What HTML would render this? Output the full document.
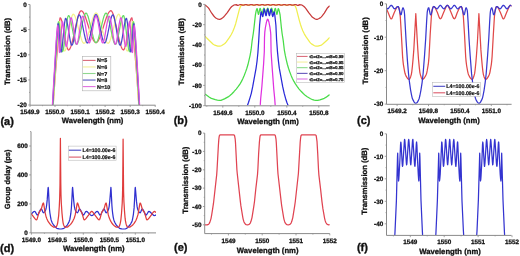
<!DOCTYPE html>
<html><head><meta charset="utf-8"><title>Figure</title>
<style>html,body{margin:0;padding:0;background:#fff;}svg{display:block;}text{font-family:"Liberation Sans", Arial, sans-serif;text-rendering:geometricPrecision;}text.h{text-rendering:auto;}</style></head>
<body><svg width="520" height="256" viewBox="0 0 520 256">
<rect width="520" height="256" fill="#fff"/>
<defs><clipPath id="clipa"><rect x="30" y="1.5" width="125.5" height="103.2"/></clipPath><clipPath id="clipb"><rect x="205" y="1.4" width="124.7" height="103.9"/></clipPath><clipPath id="clipc"><rect x="386.5" y="0.8" width="125.1" height="103"/></clipPath><clipPath id="clipd"><rect x="31" y="128.6" width="125" height="103.8"/></clipPath><clipPath id="clipe"><rect x="204.7" y="130.1" width="125.1" height="103"/></clipPath><clipPath id="clipf"><rect x="386.5" y="130.8" width="125" height="104.1"/></clipPath></defs>
<polyline points="53,106 53.1,105.7 54.8,81.6 58.5,35 59.4,23.1 59.8,19.4 60,18.1 60.1,17.9 60.4,17.9 60.9,18.5 61.4,19.7 61.9,21.3 63,26.2 65.4,39.9 66.5,45.3 67.1,47.6 67.6,48.9 68.3,49.9 68.5,50 68.7,50 69.1,49.8 69.5,49.4 70.2,48.1 71,46.2 71.8,43.4 73.3,37.5 76.7,21.8 77.6,18.3 78.5,15.3 79.2,13.3 79.8,12 80.6,11 81.2,10.7 81.9,11 82.7,11.7 83.5,12.9 84.4,14.6 85.4,17 86.3,19.7 90.4,32.5 92.2,37.6 93.2,39.8 94.2,41.4 95.1,42.3 95.6,42.6 95.9,42.7 96.3,42.6 96.8,42.4 97.7,41.6 98.6,40 99.6,37.9 101.5,32.9 105.9,19 107,16 108,13.8 109,12.1 110,11.1 110.5,10.8 110.8,10.7 111.2,10.8 111.6,11.1 112.2,12 112.8,13.3 113.5,15.3 114.3,17.9 115.7,23.9 118.9,38.6 120.5,44.7 121.3,46.9 122,48.6 122.8,49.6 123.4,50 123.7,49.9 124.2,49.2 124.7,47.9 125.2,46.3 126.3,41.2 128.7,28.2 129.8,22.7 130.4,20.4 130.9,19 131.4,18.1 131.6,17.9 131.9,17.9 132,18.1 132.2,19.4 132.6,23.1 133.5,35 137.2,81.6 138.9,105.7 139,106" fill="none" stroke="#e8506a" stroke-width="1.25" stroke-linejoin="round" clip-path="url(#clipa)"/>
<polyline points="53.2,106 53.3,105.3 54.7,82.5 57.2,42.5 58.5,25.6 58.7,23 59,21.5 59.1,21.3 59.2,21.3 59.6,21.9 60.2,24.2 60.9,28.8 63.2,46.4 64,49.9 64.3,50.8 64.5,50.9 64.7,51 65.1,50.7 65.6,49.7 66.1,48.2 66.5,46.2 67.7,40.4 69.9,26.6 70.8,21 71.8,16.8 72.3,15.3 72.8,14.5 73,14.3 73.3,14.2 73.7,14.4 74,14.7 74.6,15.6 75.4,17.3 76.8,21.9 80,34.4 81.4,39 82.1,40.9 82.8,42.4 83.4,43.1 83.8,43.3 84.1,43.3 84.7,43 85.3,42.4 85.9,41.3 86.6,39.6 88.1,35.1 91.5,22.5 93,17.8 93.9,15.6 94.6,14.2 95.3,13.3 95.9,13 96.6,13.2 97.2,13.8 97.8,14.8 98.5,16.5 100.1,21.2 103.5,33.9 105,38.6 105.9,40.8 106.6,42.2 107.3,43 107.9,43.3 108.2,43.3 108.6,43.1 109.2,42.4 109.9,40.9 110.6,39 112,34.4 115.2,21.9 116.6,17.3 117.4,15.6 118,14.7 118.3,14.4 118.7,14.2 119,14.3 119.2,14.5 119.7,15.3 120.2,16.8 121.2,21 122.1,26.6 124.3,40.4 125.5,46.2 125.9,48.2 126.4,49.7 126.9,50.7 127.3,51 127.5,50.9 127.7,50.8 128,49.9 128.8,46.4 131.1,28.8 131.8,24.2 132.4,21.9 132.8,21.3 132.9,21.3 133,21.5 133.3,23 133.5,25.6 134.8,42.5 137.3,82.5 138.7,105.3 138.8,106" fill="none" stroke="#f4f28c" stroke-width="1.25" stroke-linejoin="round" clip-path="url(#clipa)"/>
<polyline points="52.8,106 52.9,105.2 54.3,81.5 56.8,41.8 57.9,26.3 58.1,23.7 58.4,22.1 58.5,21.8 58.6,21.8 58.7,22.1 59.2,24.4 59.9,29.9 61.5,47.2 62,50.5 62.2,51.4 62.3,51.6 62.5,51.6 62.7,51.4 63.1,50.4 63.8,46.8 64.6,41.5 66.9,22 67.6,17.7 68,16.3 68.3,15.8 68.4,15.6 68.6,15.6 69.1,16 69.6,16.9 70.1,18.4 71.2,23 73.7,35.9 74.7,40.3 75.2,42 75.7,43.3 76.2,44.1 76.4,44.3 76.7,44.3 77.2,44 77.8,42.9 78.3,41.6 78.9,39.5 80,34.8 82.7,21.6 84,16.7 84.5,15.2 85,14 85.5,13.3 86,13.1 86.5,13.3 87,13.9 87.4,14.9 88.1,16.5 89.4,21.3 92.3,33.5 93.5,38.1 94.3,40.3 94.9,41.7 95.5,42.5 96,42.7 96.5,42.5 97.1,41.7 97.7,40.4 98.5,38.2 99.7,33.6 102.7,20.9 104,16.2 104.8,14.4 105.4,13.4 105.8,13.2 106,13.1 106.5,13.3 107,14 107.5,15.1 108.6,18.9 109.6,23.2 112.1,35.3 113.3,40.4 113.9,42.3 114.4,43.4 114.9,44.1 115.4,44.3 115.7,44.2 115.9,44 116.4,43.1 116.9,41.7 117.4,39.9 118.4,35.4 120.7,23.1 121.7,18.9 122.2,17.3 122.7,16.2 123.2,15.6 123.5,15.6 123.6,15.6 124,16.3 124.3,17.6 125.1,21.8 127.4,41.3 128.3,47.4 128.9,50.3 129.3,51.3 129.5,51.6 129.6,51.6 129.8,51.4 130,50.6 130.5,47.4 132.2,28.9 132.7,24.6 133.2,22.1 133.5,21.8 133.6,22 133.9,23.4 134.1,25.9 135.2,41 137.8,81.9 139.2,105.3 139.3,106" fill="none" stroke="#66dc66" stroke-width="1.25" stroke-linejoin="round" clip-path="url(#clipa)"/>
<polyline points="52.5,106 52.6,105.2 54,81.1 56.5,40.8 57.6,26.8 57.9,24.7 58.1,23.7 58.2,23.7 58.3,23.9 58.7,26.4 60.3,47.8 60.7,51 61,51.9 61.1,52 61.3,51.6 61.6,50.7 62.1,47.7 62.7,42.1 64.4,24.1 65.1,19.8 65.3,18.8 65.6,18.3 65.8,18.4 66.2,18.9 66.6,19.9 66.9,21.3 67.8,25.9 69.6,37 70.3,41.1 71,44.1 71.4,44.9 71.8,45.2 72.2,45 72.5,44.4 72.9,43.4 73.4,41.5 74.4,36.6 77.1,20.5 78,16.9 78.4,15.8 78.8,15.2 79,14.9 79.3,14.9 79.8,15.3 80.3,16.3 80.8,17.7 81.9,22.1 84.4,34.5 85.4,38.8 85.9,40.5 86.4,41.8 86.9,42.7 87.1,42.9 87.3,43 87.7,42.9 88.2,42.2 88.7,41.1 89.2,39.7 90.3,35.2 92.7,23.8 93.8,19.1 94.4,17 94.9,15.7 95.4,14.9 95.9,14.6 96.3,14.7 96.8,15.3 97.3,16.3 97.8,17.8 98.9,22.1 101.4,34.1 102.5,38.8 103.2,40.8 103.7,42 104.2,42.8 104.7,43 104.9,42.9 105.1,42.7 105.6,41.8 106.1,40.5 106.6,38.8 107.6,34.5 110.1,22.1 111.2,17.7 111.7,16.3 112.2,15.3 112.7,14.9 113,14.9 113.2,15.2 113.6,15.8 114,16.9 114.9,20.5 117.6,36.6 118.6,41.5 119.1,43.4 119.5,44.4 119.8,45 120.2,45.2 120.6,44.9 121,44.1 121.7,41.1 122.4,37 124.2,25.9 125.1,21.3 125.4,19.9 125.8,18.9 126.2,18.4 126.4,18.3 126.7,18.8 126.9,19.8 127.6,24.1 129.3,42.1 129.9,47.7 130.4,50.7 130.7,51.6 130.9,52 131,51.9 131.3,51 131.7,47.8 133.3,26.4 133.7,23.9 133.8,23.7 133.9,23.7 134.1,24.7 134.4,26.8 135.5,40.8 138,81.1 139.4,105.2 139.5,106" fill="none" stroke="#4848cc" stroke-width="1.25" stroke-linejoin="round" clip-path="url(#clipa)"/>
<polyline points="52.3,106 52.4,105.1 53.7,82.3 56.2,40.3 57.2,28.7 57.4,26.7 57.7,25.6 57.8,25.5 57.9,26 58.2,28.9 59.1,47.4 59.3,51.1 59.4,52.2 59.6,52.5 59.8,51.7 60.2,48.6 61.7,26.6 62.1,23 62.3,21.8 62.4,21.7 62.7,22.1 63.2,24.3 63.7,28 65.3,42.6 65.8,45.5 66.2,46.5 66.3,46.5 66.4,46.4 66.7,45.9 67.3,43.1 67.9,38.6 69.8,22.7 70.4,19.1 70.8,18 71.1,17.8 71.3,17.9 71.7,18.7 72.3,21.2 73.1,25.6 75.1,39.3 75.7,42.4 76.1,43.6 76.3,44.1 76.6,44.3 76.7,44.3 77.1,43.9 77.4,42.9 77.8,41.5 78.7,36.8 80.4,25.1 81.2,20.7 81.9,17.5 82.3,16.6 82.7,16.2 83.1,16.4 83.4,17.1 83.8,18.1 84.3,20.1 85.2,24.7 87.1,35.8 87.9,40 88.7,42.3 89.1,42.8 89.3,42.9 89.6,42.7 89.9,42.1 90.7,39.8 91.6,35.6 93.4,24.8 94.3,20.3 95.2,17.1 95.6,16.4 95.9,16.1 96.3,16.2 96.7,16.8 97.4,19.2 98.3,23.4 100.2,34.3 101.1,38.7 101.9,41.8 102.3,42.6 102.7,42.9 102.9,42.8 103.3,42.3 104.1,40 104.9,35.8 106.8,24.7 107.7,20.1 108.2,18.1 108.6,17.1 108.9,16.4 109.3,16.2 109.7,16.6 110.1,17.5 110.8,20.7 111.6,25.1 113.3,36.8 114.2,41.5 114.6,42.9 114.9,43.9 115.3,44.3 115.4,44.3 115.7,44.1 115.9,43.6 116.3,42.4 116.9,39.3 118.9,25.6 119.7,21.2 120.3,18.7 120.7,17.9 120.9,17.8 121.2,18 121.6,19.1 122.2,22.7 124.1,38.6 124.7,43.1 125.3,45.9 125.6,46.4 125.7,46.5 125.8,46.5 126.2,45.5 126.7,42.6 128.3,28 128.8,24.3 129.3,22.1 129.6,21.7 129.7,21.8 129.9,23 130.3,26.6 131.8,48.6 132.2,51.7 132.4,52.5 132.6,52.2 132.7,51.1 132.9,47.4 133.8,28.9 134.1,26 134.2,25.5 134.3,25.6 134.6,26.7 134.8,28.7 135.8,40.3 138.3,82.3 139.6,105.1 139.7,106" fill="none" stroke="#e050e0" stroke-width="1.25" stroke-linejoin="round" clip-path="url(#clipa)"/>
<rect x="82.3" y="56.5" width="28.5" height="34.3" fill="#fff" stroke="#b0b0b0" stroke-width="0.6"/>
<line x1="82.8" y1="60.40" x2="95.6" y2="60.40" stroke="#d86878" stroke-width="1.1"/>
<text x="97.1" y="62.4" font-size="5.4" text-anchor="start" font-weight="bold" fill="#111" stroke="#111" stroke-width="0.2">N=5</text>
<line x1="82.8" y1="66.95" x2="95.6" y2="66.95" stroke="#f2ee9a" stroke-width="1.1"/>
<text x="97.1" y="68.9" font-size="5.4" text-anchor="start" font-weight="bold" fill="#111" stroke="#111" stroke-width="0.2">N=6</text>
<line x1="82.8" y1="73.50" x2="95.6" y2="73.50" stroke="#90d890" stroke-width="1.1"/>
<text x="97.1" y="75.5" font-size="5.4" text-anchor="start" font-weight="bold" fill="#111" stroke="#111" stroke-width="0.2">N=7</text>
<line x1="82.8" y1="80.05" x2="95.6" y2="80.05" stroke="#5a5ac0" stroke-width="1.1"/>
<text x="97.1" y="82" font-size="5.4" text-anchor="start" font-weight="bold" fill="#111" stroke="#111" stroke-width="0.2">N=8</text>
<line x1="82.8" y1="86.60" x2="95.6" y2="86.60" stroke="#e070e0" stroke-width="1.1"/>
<text x="97.1" y="88.5" font-size="5.4" text-anchor="start" font-weight="bold" fill="#111" stroke="#111" stroke-width="0.2">N=10</text>
<polyline points="205,36.1 207,38.3 209.5,40.8 213.2,44.2 214.1,44.8 214.8,45.2 217.7,46.1 218.9,46.2 219.9,46.2 220.8,46 221.8,45.5 224.5,43.8 225.3,43 226.3,41.8 229.5,37.4 231.3,34.5 232.8,31.5 234.3,27.7 235.7,23.7 239.5,8.9 240.2,7.1 240.8,5.9 241.3,5.3 242,5 242.9,4.7 243,5.3 244.1,4.7 245,4.6 245.6,4.7 247.1,5.2 247.8,5.3 248.4,5.2 249.7,4.7 250.5,4.6 251.2,4.7 252.5,5.2 253.2,5.3 253.8,5.2 255.3,4.7 256,4.6 256.6,4.7 258,5.2 258.7,5.3 259.4,5.2 260.8,4.7 261.4,4.6 262.1,4.7 263.6,5.2 264.2,5.3 264.9,5.2 266.3,4.7 266.9,4.6 267.7,4.7 269.1,5.2 269.7,5.3 270.4,5.2 271.8,4.7 272.4,4.6 273,4.7 274.4,5.2 275.1,5.3 275.9,5.2 277.3,4.7 277.9,4.6 278.6,4.7 280.1,5.2 280.7,5.3 281.4,5.2 282.8,4.7 283.4,4.6 284.2,4.7 285.6,5.2 286.2,5.3 286.9,5.2 288.3,4.7 289,4.6 289.6,4.7 290.9,5.2 291.6,5.3 292.9,5.1 293,4.7 293.2,4.8 294.6,5.3 295.2,6.1 295.9,7.6 296.5,9.3 299.3,20.3 300.5,24.5 301.6,27.8 302.9,31 304.4,34.1 306.3,37.2 309.6,41.9 310.6,43.1 311.5,43.9 314.1,45.5 315.1,46 316,46.2 316.9,46.2 317.9,46.1 320.6,45.3 321.8,44.8 323.1,43.8 327,40.3 329.7,37.5" fill="none" stroke="#f0ee50" stroke-width="1.25" stroke-linejoin="round" clip-path="url(#clipb)"/>
<polyline points="205,94.1 209.4,97.2 210.9,98.1 212.2,98.7 215.3,99.7 217.4,100.2 219.4,100.4 221,100.3 222.6,99.7 224.5,98.9 228.1,96.9 229.7,95.7 231.7,94 233.9,91.7 236.2,89.1 238.1,86.7 239.9,84.1 241.5,81.4 242.8,78.8 244.1,75.8 245.6,71.9 246.7,68.8 247.9,64.8 248.9,60.6 250.1,55.3 251.1,49.7 252.2,40.3 253.3,33.4 253.9,28.6 255.4,14.9 256.1,11.2 256.6,9.3 257,8.7 257.1,8.7 257.2,8.8 257.5,9.8 258.1,13.4 258.3,14.1 258.5,14.4 258.7,14.2 258.9,13.3 259.8,8.9 260,8.4 260.2,8.4 260.4,8.6 260.6,9.4 261.5,13.1 261.8,13.7 262,13.9 262.1,13.7 262.4,13 263.4,8.9 263.7,8.2 263.8,8.1 264,8.3 264.3,8.9 265.3,12.9 265.6,13.5 265.8,13.5 266,13.4 266.2,12.7 267.3,8.6 267.7,8.1 267.8,8.1 268.1,8.7 269.2,12.7 269.4,13.4 269.6,13.6 269.8,13.5 270.1,12.9 271.1,8.9 271.4,8.3 271.6,8.1 271.8,8.3 272,8.9 273,13 273.3,13.7 273.5,13.9 273.6,13.7 273.9,13 274.8,9.4 275.1,8.6 275.2,8.4 275.4,8.5 275.6,8.9 276.5,13.4 276.8,14.4 277,14.3 277.2,13.7 278.1,9 278.2,8.8 278.4,8.7 278.5,8.8 278.8,9.4 279.4,11.7 280.1,15 281.5,28.7 282.1,33.5 283.2,40.4 284.3,49.8 285.3,55.4 286.4,60.3 287.4,64.5 288.6,68.5 289.7,71.7 291.1,75.4 292.4,78.5 293.8,81.1 295.4,83.9 297.1,86.4 298.9,88.8 301.1,91.3 303.5,93.8 305.5,95.6 307.2,96.8 310.6,98.7 312.6,99.7 314.2,100.2 315.9,100.4 317.8,100.3 319.9,99.8 322.9,98.8 324.3,98.3 325.8,97.4 329.7,94.6" fill="none" stroke="#48dc48" stroke-width="1.25" stroke-linejoin="round" clip-path="url(#clipb)"/>
<polyline points="205,109.8 245.4,109.8 247.3,105.7 248.5,102.5 249.9,98.1 251.3,93.3 252.7,86.7 256,68.6 257,61.5 257.9,52.8 258.7,40.9 259.6,25 260.6,14.9 261,12.4 261.2,11.9 261.2,11.9 261.4,12.2 262.4,16.1 262.6,16.5 262.8,16.5 263.1,15.3 264,9.7 264.2,9.2 264.4,9.1 264.7,10.1 265.6,14.9 265.9,15.6 266.1,15.7 266.4,14.7 267.3,9.8 267.5,9.2 267.7,8.9 267.8,9 268,9.5 269,14.8 269.4,15.7 269.5,15.6 269.8,14.8 270.7,10 271,9.1 271.2,9.2 271.4,9.8 272.3,15.4 272.7,16.5 272.8,16.5 273,16 274,12.1 274.2,11.9 274.3,11.9 274.4,12.5 274.8,15 275.9,25.2 276.6,39.7 277.5,51.9 278.4,60.9 279.3,68.2 282.7,86.7 284.2,93.4 285.5,98.2 286.8,102.2 288.1,105.5 289.9,109.6 290,109.8 329.7,109.8" fill="none" stroke="#2828d8" stroke-width="1.25" stroke-linejoin="round" clip-path="url(#clipb)"/>
<polyline points="205,109.8 259.5,109.8 259.9,107.3 260.3,104.4 260.7,98.5 261.9,86.2 263.6,63.9 264.3,51.7 264.5,37.6 264.8,32.2 265.4,27.5 266.4,22.4 266.7,21.3 267.1,20 267.4,19.5 267.7,19.2 267.9,19.4 268.2,19.9 268.9,22 269.9,27.1 270.6,32.3 270.8,34.9 271.1,52 271.9,64.1 273.8,89.5 274.7,98.6 275.2,105.5 275.9,109.6 276,109.8 329.7,109.8" fill="none" stroke="#e030e0" stroke-width="1.25" stroke-linejoin="round" clip-path="url(#clipb)"/>
<polyline points="205,4.9 206.3,5.9 208.4,7.9 209.3,9.2 211.7,13.2 213.8,16 214.9,17.2 215.8,18 217.3,18.8 218.4,19.2 219.4,19.4 220.2,19.3 221,18.9 223,17.5 223.6,17 224.8,15.7 227.3,12.6 230,8.6 231.1,7.2 231.8,6.5 233.3,5.5 234.1,5 234.8,4.8 236.9,4.7 237,5.3 237.6,5.4 238.3,5.3 239.7,4.7 240.3,4.6 241,4.6 242.5,5.2 243.2,5.2 244,5.1 245.3,4.6 245.9,4.5 246.5,4.6 248,5.1 248.7,5.2 249.3,5.1 250.7,4.6 251.4,4.5 252.1,4.6 253.5,5.1 254.2,5.2 254.9,5.1 256.3,4.6 257,4.5 257.6,4.6 258.9,5.1 259.6,5.2 260.3,5.1 261.7,4.6 262.4,4.5 263,4.6 264.5,5.1 265.2,5.2 265.8,5.1 267.2,4.6 267.9,4.5 268.6,4.6 270,5.1 270.7,5.2 271.3,5.1 272.7,4.6 273.5,4.5 274.1,4.6 275.5,5.1 276.1,5.2 276.8,5.1 278.2,4.6 278.9,4.5 279.5,4.6 280.9,5.1 281.7,5.2 282.3,5.1 283.7,4.6 284.4,4.5 285,4.6 286.5,5.1 287.2,5.2 287.8,5.1 289.2,4.6 289.9,4.5 290.6,4.6 292,5.1 292.7,5.2 293.3,5.2 294.7,4.7 295.3,4.6 296,4.7 297.5,5.3 298.2,5.4 298.9,5.3 299,4.7 301.2,4.8 301.8,5 302.6,5.5 304,6.5 304.7,7.2 305.9,8.6 308.7,12.7 311.1,15.7 312.2,17 312.9,17.5 314.8,18.8 315.7,19.2 316.5,19.4 317.5,19.3 318.6,18.8 320.2,17.9 321.1,17.1 322.2,15.8 324.3,13.1 327.3,8.2 327.9,7.5 329.7,5.8" fill="none" stroke="#c83a3a" stroke-width="1.25" stroke-linejoin="round" clip-path="url(#clipb)"/>
<rect x="296.3" y="53.6" width="48.2" height="28.9" fill="#fff" stroke="#b0b0b0" stroke-width="0.5"/>
<line x1="297" y1="56.40" x2="307.6" y2="56.40" stroke="#d86070" stroke-width="1"/>
<text class="h" x="309.4" y="57.9" font-size="4.4" text-anchor="start" font-weight="bold" fill="#111" stroke="#111" stroke-width="0.25">t1=t2=...=t8=0.99</text>
<line x1="297" y1="62.05" x2="307.6" y2="62.05" stroke="#f2ee98" stroke-width="1"/>
<text class="h" x="309.4" y="63.6" font-size="4.4" text-anchor="start" font-weight="bold" fill="#111" stroke="#111" stroke-width="0.25">t1=t2=...=t8=0.95</text>
<line x1="297" y1="67.70" x2="307.6" y2="67.70" stroke="#80d880" stroke-width="1"/>
<text class="h" x="309.4" y="69.2" font-size="4.4" text-anchor="start" font-weight="bold" fill="#111" stroke="#111" stroke-width="0.25">t1=t2=...=t8=0.85</text>
<line x1="297" y1="73.35" x2="307.6" y2="73.35" stroke="#5646b4" stroke-width="1"/>
<text class="h" x="309.4" y="74.9" font-size="4.4" text-anchor="start" font-weight="bold" fill="#111" stroke="#111" stroke-width="0.25">t1=t2=...=t8=0.80</text>
<line x1="297" y1="79.00" x2="307.6" y2="79.00" stroke="#d868e0" stroke-width="1"/>
<text class="h" x="309.4" y="80.5" font-size="4.4" text-anchor="start" font-weight="bold" fill="#111" stroke="#111" stroke-width="0.25">t1=t2=...=t8=0.75</text>
<polyline points="386.5,8.9 388.2,12.8 390,17.3 390.6,18.4 391,18.8 391.2,18.8 391.7,18.6 392.2,17.8 394.3,12.4 396.2,8.4 396.9,7.1 397.4,6.6 397.7,6.5 397.9,6.5 398.5,7.1 399.1,8.3 399.4,9.4 399.7,11.8 400.3,16.9 401.4,35.2 402.6,56.6 403,61.1 403.4,64.6 404.5,71 405,73.3 405.5,74.7 406.4,76.7 407.4,78.2 408.2,79 408.7,79.3 409,79.4 409.5,79.1 410,78.3 410.6,76.9 411.3,74.6 411.8,71.6 412.4,66.2 413.1,58.6 413.8,49.9 415.8,13.7 417.1,37.6 417.8,49.4 418.5,59.3 419.3,67.6 419.9,72.6 420.5,75.1 421.2,77.3 421.7,78.6 422.3,79.3 422.5,79.4 422.8,79.3 423.5,78.9 424.3,78 425.4,76.2 426.2,74.5 426.7,73.1 427.2,70.7 428.3,64.2 428.6,61.4 429,57 430.2,34.2 431.3,17.3 431.8,12 432.2,9.6 432.5,8.4 433.1,7.1 433.6,6.5 433.9,6.5 434.2,6.6 434.7,7.1 435.4,8.3 437.4,12.5 439.3,17.7 439.9,18.6 440.2,18.8 440.4,18.8 441,18.5 441.6,17.4 443.4,12.9 446.1,6.7 446.7,5.7 447,5.4 447.3,5.3 447.6,5.4 447.9,5.6 448.6,6.7 451.3,12.9 453.1,17.4 453.7,18.5 454.3,18.8 454.5,18.8 454.8,18.6 455.4,17.7 457.3,12.5 459.3,8.3 460,7.1 460.5,6.6 460.8,6.5 461.1,6.5 461.6,7.1 462.2,8.4 462.9,12 463.4,17.3 464.5,34.2 465.7,57 466.1,61.4 466.6,65.5 467.7,71.6 468.2,73.7 468.7,75 469.8,77.2 470.8,78.6 471.4,79.1 471.8,79.3 472.3,79.3 472.5,79.2 473,78.6 473.5,77.3 474.2,75.1 474.6,73.7 475.1,70 475.9,62.3 476.5,54.7 477.4,42.2 478.9,13.7 480.9,49.9 481.6,58.6 482.3,66.2 482.9,71.6 483.4,74.6 484.1,76.9 484.7,78.3 485.2,79.1 485.7,79.4 486,79.3 486.5,79 487.3,78.2 488.3,76.7 489.2,74.7 489.7,73.3 490.2,71 491.3,64.6 491.7,61.1 492.1,56.5 493.3,35.2 494.4,16.9 495,11.8 495.3,9.4 495.6,8.3 496.2,7.1 496.8,6.5 497,6.5 497.3,6.6 497.8,7.1 498.5,8.4 500.4,12.4 502.5,17.8 503,18.6 503.5,18.8 503.7,18.8 504.1,18.4 504.7,17.3 506.6,12.6 508.8,7.4 509.5,6.1 510.1,5.4 510.5,5.3 511.1,5.7 511.6,6.5" fill="none" stroke="#e04848" stroke-width="1.25" stroke-linejoin="round" clip-path="url(#clipc)"/>
<polyline points="386.5,7.8 386.9,8.3 387.4,8.7 387.8,8.8 388.1,8.7 388.8,8 390.3,5.9 390.8,5.5 391.1,5.3 391.5,5.4 392,5.7 393.7,8.2 394.1,8.6 394.5,8.8 394.8,8.8 395.3,8.6 397.2,6.8 397.7,6.5 398.1,6.5 398.5,7 398.8,8 400.3,13.7 400.6,14.5 400.9,14.8 401.2,14.6 401.4,13.8 402.3,9.4 402.8,8 402.9,7.8 403,7.8 403.3,8.1 403.8,9.4 404.2,10.8 404.6,14.6 406.1,41 407.4,60.4 408.5,73.5 409.4,81.7 410.6,90.1 411.6,95.3 412.3,98.3 413,99.9 414.2,102.1 415,103.1 415.5,103.4 415.8,103.4 416.2,103.3 416.5,103.1 417.4,102.2 418.5,100.1 419.2,98.4 419.9,95.5 420.9,90.3 422.1,82.6 423.2,72.8 424.5,56 425.7,38.6 426.6,21.9 427.2,12.7 427.5,10.5 428.2,8.3 428.4,7.9 428.6,7.8 428.8,7.9 429,8.3 430.1,13.7 430.4,14.5 430.7,14.8 431,14.4 431.4,13.5 432.9,7.5 433.3,6.7 433.5,6.5 434.3,6.7 436.1,8.4 436.6,8.7 437,8.8 437.4,8.7 437.7,8.4 439.5,5.9 440,5.4 440.3,5.3 440.7,5.4 441.1,5.8 442.9,8.2 443.4,8.6 443.8,8.8 444.2,8.7 444.6,8.4 446.4,5.9 446.9,5.5 447.3,5.3 447.7,5.4 448.1,5.7 450,8.3 450.4,8.7 450.8,8.8 451.2,8.7 451.6,8.4 453.4,6 453.8,5.5 454.2,5.3 454.5,5.3 455,5.7 456.8,8.2 457.2,8.7 457.6,8.8 457.9,8.8 458.4,8.5 460.3,6.8 460.7,6.6 461.2,6.5 461.4,6.7 461.8,7.5 463.3,13.5 463.7,14.4 464,14.8 464.3,14.5 464.6,13.7 465.7,8.3 466,7.8 466.3,7.9 466.7,8.7 467.2,10.1 467.3,11 467.5,12.7 468.1,21.9 469,38.6 470.2,56 471.6,73.9 472.7,83.3 473.9,90.8 474.8,95.5 475.5,98.4 476.2,100.1 477.4,102.2 478.2,103.1 478.5,103.3 478.9,103.4 479.2,103.4 479.7,103.1 480.5,102.1 481.7,99.9 482.4,98.3 483.1,95.3 484.1,90.1 485.2,82.4 486.2,73.5 487.6,55.5 488.8,38.1 489.7,21.3 490.2,13.4 490.5,10.8 490.9,9.1 491.5,8 491.7,7.8 491.9,8 492.4,9.4 493.3,13.8 493.5,14.6 493.8,14.8 494.1,14.5 494.4,13.7 495.9,8 496.2,7 496.6,6.5 497,6.5 497.5,6.8 499.4,8.6 499.9,8.8 500.2,8.8 500.6,8.6 501,8.2 502.7,5.7 503.2,5.4 503.6,5.3 503.9,5.5 504.4,5.9 506.1,8.3 506.6,8.7 507,8.8 507.3,8.7 507.8,8.3 509.4,6.1 510.1,5.4 510.4,5.3 510.8,5.4 511.6,6.2" fill="none" stroke="#3838d0" stroke-width="1.25" stroke-linejoin="round" clip-path="url(#clipc)"/>
<rect x="432.5" y="82.5" width="47.9" height="13.8" fill="#fff" stroke="#b0b0b0" stroke-width="0.5"/>
<line x1="433.3" y1="86.3" x2="445.2" y2="86.3" stroke="#4848c4" stroke-width="1.1"/>
<line x1="433.3" y1="92.8" x2="445.2" y2="92.8" stroke="#dc5a6a" stroke-width="1.1"/>
<text x="446.3" y="88.2" font-size="5.3" text-anchor="start" font-weight="bold" fill="#111" stroke="#111" stroke-width="0.2">L4=100.00e-6</text>
<text x="446.3" y="94.7" font-size="5.3" text-anchor="start" font-weight="bold" fill="#111" stroke="#111" stroke-width="0.2">L4=100.09e-6</text>
<polyline points="31,214.4 33.3,212 34,211.5 34.7,211.4 35,211.6 35.3,211.9 36.9,214.7 37.3,215 37.6,214.9 38,214.6 38.4,213.9 40.4,209.9 40.8,209.3 41.2,209 41.5,209 41.8,209.4 42.9,212.1 43.3,212.7 43.5,212.8 43.9,212.6 44.7,211.6 45.4,210.4 45.9,209.2 46.2,207.9 46.6,205.5 47.2,199.9 48,188.5 48.2,187.3 48.4,188.6 49.1,202.7 49.5,209.4 49.9,213 50.5,216.6 51,219.4 51.5,221 52.3,223 53.6,225 55.4,227.1 56.7,228.2 57.8,228.7 59.3,228.9 61.2,229 63.1,228.7 63.9,228.3 65.1,227.4 66.2,226.3 67.4,224.8 68.2,223.4 68.9,222.1 69.5,220.6 69.9,219.2 70.8,213.7 71.4,207.8 72,197.2 72.4,188.8 72.6,187.3 72.7,188.3 73.7,200.6 74.3,206 74.7,208.2 75,209.4 75.5,210.5 76.3,211.9 77,212.6 77.3,212.8 77.5,212.7 78,212 79,209.5 79.3,209 79.5,209 79.9,209.2 80.4,209.9 82.4,213.9 82.8,214.6 83.2,214.9 83.5,215 83.9,214.7 85.6,211.8 86,211.5 86.3,211.4 86.9,211.6 87.6,212.1 89.8,214.4 90.6,215.1 91.2,215.5 91.7,215.6 92.4,215.5 93,215.1 95.9,212.1 96.6,211.6 97.2,211.4 97.6,211.5 98,211.9 99.6,214.7 99.9,215 100.3,214.9 100.7,214.5 101.2,213.8 103.1,209.9 103.5,209.3 103.9,209 104.2,209 104.5,209.4 105.6,212.1 106,212.7 106.2,212.8 106.5,212.7 107.1,212 108,210.6 108.5,209.4 108.8,208.3 109.2,206.1 109.8,200.8 110.9,187.3 111.1,189.8 111.9,205.3 112.3,210.2 112.7,213.6 113.2,217.1 113.7,219.4 114.2,221 115,222.8 116.2,224.9 118,227 119.3,228.1 120.4,228.7 121.8,228.9 123.6,229 125.6,228.8 126.5,228.4 127.7,227.5 128.6,226.5 129.9,225 130.7,223.8 131.5,222.4 132.1,220.9 132.5,219.5 133.4,214.3 134.1,207.9 134.7,197.3 135.1,188.8 135.3,187.3 135.4,188.2 136.5,201.4 137.1,206.4 137.5,208.5 137.9,209.8 138.3,210.8 139.2,212.1 139.8,212.7 140.1,212.8 140.3,212.7 140.7,212 141.7,209.5 142,209.1 142.2,209 142.6,209.2 143.1,209.9 145.1,213.9 145.5,214.6 145.9,214.9 146.2,215 146.6,214.7 148.2,212 148.6,211.5 148.9,211.4 149.5,211.6 150.2,212 152.7,214.6 153.7,215.4 154.3,215.6 154.8,215.5 155.4,215.3 156,214.8" fill="none" stroke="#3030d0" stroke-width="1.25" stroke-linejoin="round" clip-path="url(#clipd)"/>
<polyline points="31,213.3 32.1,214.9 35.1,218.9 36,219.7 36.4,219.8 36.7,219.7 37,219.3 37.4,218.2 38.6,213.8 39.1,212.4 39.4,211.7 40.5,210.5 41,209.7 41.5,208.3 42.7,204 43.1,203.2 43.4,203 43.7,203.8 45.1,212.6 45.7,215.2 46.2,217 46.9,218.9 47.7,220.6 48.6,222.2 49.7,223.7 50.8,225 52,226.1 53.7,227.2 54.8,227.2 56,227 56.5,226.4 57.1,225 57.6,223.3 58,220.7 58.7,215.3 59.3,206.3 59.7,197.7 60,184.7 60.4,138.4 60.8,183.7 61,194.9 61.3,203 62,213.3 62.7,220.1 63.1,222.8 63.5,224.5 64.1,226 64.7,226.9 65.5,227.1 66.9,227.2 67.3,227.1 67.7,226.9 69.3,225.6 70.6,224.4 71.7,222.9 72.8,221.1 74.2,218.2 75.2,214.9 75.7,212.2 77.1,203.9 77.3,203.2 77.4,203 77.7,203.3 78.1,204.2 79.8,209.7 80.2,210.4 81.3,211.7 81.7,212.4 82.2,213.8 83.5,218.4 83.8,219.4 84.2,219.8 84.9,219.6 85.7,218.9 88.7,214.9 90.5,212.3 91.1,211.6 91.7,211.4 92.4,211.6 93,212.3 94.8,214.9 97.8,218.9 98.7,219.7 99.1,219.8 99.4,219.7 99.7,219.3 100.1,218.3 101.3,213.8 101.7,212.4 102.1,211.7 103.2,210.5 103.7,209.7 104.2,208.4 105.4,204 105.8,203.2 106.1,203 106.4,203.8 107.8,212.1 108.3,214.9 109.3,218.1 110.7,221.2 111.8,223 113,224.5 114.3,225.7 116,227 116.5,227.2 117.7,227.1 118.6,227 119,226.6 119.6,225.6 120,224.3 120.5,222.1 120.9,219.6 121.5,213.5 122.2,203.4 122.5,195.5 122.7,185 123.1,139.2 123.5,183.3 123.6,191.9 123.9,201.2 124.5,211.1 125.1,218.2 125.4,220.6 125.9,223.2 126.3,224.7 126.8,225.9 127.2,226.6 127.5,227 129.3,227.2 129.7,227.2 130,227.1 131.8,225.8 133,224.7 134.1,223.4 135.2,221.7 136,220.2 136.7,218.6 137.9,214.9 138.4,212.3 139.8,203.9 140.1,203 140.2,203 140.4,203.2 140.8,203.9 142.1,208.5 142.6,209.8 143,210.5 144,211.7 144.4,212.4 144.9,213.8 146.2,218.4 146.5,219.4 146.9,219.8 147.2,219.8 147.6,219.6 148.5,218.8 151.4,214.9 153,212.5 153.8,211.7 154.4,211.4 154.8,211.5 155.4,211.9 156,212.7" fill="none" stroke="#e03c3c" stroke-width="1.25" stroke-linejoin="round" clip-path="url(#clipd)"/>
<rect x="68.4" y="146.1" width="47.7" height="14.1" fill="#fff" stroke="#b0b0b0" stroke-width="0.5"/>
<line x1="68.9" y1="150.2" x2="81.2" y2="150.2" stroke="#4848c4" stroke-width="1.1"/>
<line x1="68.9" y1="157.1" x2="81.2" y2="157.1" stroke="#dc5a6a" stroke-width="1.1"/>
<text x="82.5" y="152.1" font-size="5.25" text-anchor="start" font-weight="bold" fill="#111" stroke="#111" stroke-width="0.2">L4=100.00e-6</text>
<text x="82.5" y="159" font-size="5.25" text-anchor="start" font-weight="bold" fill="#111" stroke="#111" stroke-width="0.2">L4=100.09e-6</text>
<polyline points="204.7,224.8 207.4,224.8 207.5,224.7 208.5,224.3 209.1,223.6 209.8,222.4 210.4,220.6 211,218.6 211.6,215.3 212.6,209.1 213.5,203.2 216.7,174.6 217.1,168.7 218.4,145.2 218.8,139.6 219.1,137.2 219.4,135.7 219.8,135.1 220.2,134.9 233.8,134.9 234,135 234.3,135.3 234.6,135.9 235.2,139.2 235.5,142.8 236.9,169.7 237.3,174 240.4,201.9 240.9,205.9 242.8,217.3 243.2,219.3 243.8,221.4 244.5,222.9 245.4,224.2 245.7,224.4 246.2,224.6 247.4,224.8 248.4,224.6 249,224.4 249.4,224.2 250.3,223 250.9,221.6 251.5,219.5 252,217.6 253.8,206.3 254.5,201.5 255.8,188.9 257.5,174.6 257.9,168.8 258.6,154.2 259.4,142.1 259.9,137.3 260.1,136.1 260.3,135.5 260.7,135 261,134.9 274.6,134.9 274.8,135 275.1,135.3 275.4,135.8 276,139.2 276.3,142.7 277.7,169.6 278,174 281.2,201.9 281.7,205.9 283.6,217.3 284,219.3 284.6,221.4 285.2,222.9 286.2,224.2 286.5,224.4 287,224.6 288.2,224.8 289.2,224.6 289.8,224.4 290.2,224.2 291.1,223 291.7,221.6 292.3,219.5 292.8,217.6 294.6,206.3 295.3,201.5 298.4,173.5 300.2,142.1 300.6,138 301,135.7 301.4,135.1 301.8,134.9 315.4,134.9 315.7,135.1 316.1,135.5 316.3,136.3 317,141.3 317.7,153.1 318.5,169.5 318.9,175.1 320.5,188.3 322,201.9 322.9,208.7 324.6,218.3 325.1,220.4 325.7,222.2 326.6,223.7 327.3,224.4 328.7,224.8 329.8,224.7" fill="none" stroke="#e04452" stroke-width="1.25" stroke-linejoin="round" clip-path="url(#clipe)"/>
<polyline points="386.5,235.6 394.1,235.6 394.7,235.5 394.8,235.4 395,231.9 396.4,200.6 397.5,157.1 397.7,153.1 398.3,175.6 398.5,181 398.6,180.7 398.8,179.2 399.1,174.7 400,157.9 400.5,145.4 400.8,142.1 400.8,142 400.9,142.2 401.1,144 402.2,163.7 402.4,165.9 402.5,166.4 402.8,165.3 403,162.4 404.3,142.4 404.5,139.7 404.6,139.4 404.8,139.9 405,142.1 406.3,162.2 406.5,164.3 406.6,164.8 406.8,164.2 407,162.3 408.3,142.3 408.5,140.2 408.7,139.4 408.9,140.2 409.1,142.3 410.4,162.3 410.6,164.1 410.8,164.8 410.9,164.3 411.1,162.2 412.4,142.2 412.6,139.9 412.8,139.4 412.9,139.6 413.1,142.4 414.4,162.4 414.6,165.2 414.9,166.4 415,166 415.2,163.8 416.3,144 416.5,142.2 416.6,142 416.6,142.1 416.9,145.3 417.4,157.8 418.3,174.7 418.6,179.2 418.8,180.7 418.9,181 419.1,175.7 419.7,153.1 419.9,157 421,200.5 422.4,231.9 422.6,234.9 422.7,235.5 423.3,235.6 435.1,235.6 435.7,235.5 435.8,235.2 436,231.5 437.4,200 438.7,153.4 438.7,153.1 438.8,154.3 439.3,178.4 439.5,181 439.8,179 440.2,174.4 441.7,142.3 441.8,142 441.9,142.3 442.1,144.3 443.2,164 443.4,166.1 443.5,166.4 443.7,165.6 444,163 445.3,142.1 445.5,139.9 445.6,139.4 445.8,140 446,142.4 447.3,162.5 447.5,164.4 447.7,164.8 447.8,164 448,162.1 449.3,142.9 449.5,140.6 449.7,139.4 449.7,139.4 449.8,139.9 450,141.7 451.3,161.7 451.5,163.8 451.7,164.8 451.8,164.5 452,162.8 453.4,141.9 453.7,139.8 453.8,139.4 453.8,139.5 454.1,141.7 455.4,162.7 455.7,165.4 455.8,166.2 455.9,166.4 456,165.8 456.2,163.5 457.3,143.8 457.5,142.1 457.6,142 457.7,142.2 457.9,145.7 458.4,158.3 459.2,174 459.5,178.7 459.8,180.9 459.9,181 460,180.4 460.1,177.2 460.6,155.1 460.7,153.2 460.9,157.8 462,201 463.4,231 463.7,235.4 464.2,235.6 476.2,235.6 476.7,235.4 477,231.1 478.4,199.4 479.7,153.2 479.8,155 480.3,177.1 480.4,180.3 480.5,181 480.5,181 480.8,179.4 481.1,175.1 482,158.3 482.5,144.6 482.8,142 482.9,142.5 483.1,144.6 484.2,163.4 484.4,165.8 484.5,166.4 484.6,166.2 484.7,165.4 485,162.7 486.3,141.8 486.6,139.5 486.6,139.4 486.7,139.8 487,141.9 488.4,162.8 488.6,164.5 488.7,164.8 488.9,163.9 489.1,161.8 490.4,141.8 490.6,139.9 490.7,139.4 490.7,139.4 490.9,140.6 491.1,142.9 492.4,162 492.6,164 492.7,164.8 492.9,164.4 493.1,162.5 494.4,142.4 494.6,140 494.8,139.4 494.9,139.9 495.1,142 496.4,163 496.7,165.6 496.9,166.4 497,166.1 497.2,164.1 498.3,144.3 498.5,142.3 498.6,142 498.7,142.3 498.9,144.9 499.4,158.7 500.2,174.3 500.6,178.9 500.9,181 501.1,178.5 501.6,154.4 501.7,153.2 501.7,153.4 503,199.9 504.4,231.4 504.6,235.2 504.7,235.5 505.2,235.6 511.5,235.6" fill="none" stroke="#3434d0" stroke-width="1.25" stroke-linejoin="round" clip-path="url(#clipf)"/>
<path d="M30,4.5 V105.2 H155.5" fill="none" stroke="#8a8a8a" stroke-width="1.0"/>
<line x1="28.2" y1="4.5" x2="30" y2="4.5" stroke="#8a8a8a" stroke-width="0.8"/>
<text x="26.7" y="6.8" font-size="6.3" text-anchor="end" font-weight="bold" fill="#111" stroke="#111" stroke-width="0.28">0</text>
<line x1="28.2" y1="29.6" x2="30" y2="29.6" stroke="#8a8a8a" stroke-width="0.8"/>
<text x="26.7" y="31.9" font-size="6.3" text-anchor="end" font-weight="bold" fill="#111" stroke="#111" stroke-width="0.28">-5</text>
<line x1="28.2" y1="54.8" x2="30" y2="54.8" stroke="#8a8a8a" stroke-width="0.8"/>
<text x="26.7" y="57" font-size="6.3" text-anchor="end" font-weight="bold" fill="#111" stroke="#111" stroke-width="0.28">-10</text>
<line x1="28.2" y1="79.9" x2="30" y2="79.9" stroke="#8a8a8a" stroke-width="0.8"/>
<text x="26.7" y="82.1" font-size="6.3" text-anchor="end" font-weight="bold" fill="#111" stroke="#111" stroke-width="0.28">-15</text>
<line x1="28.2" y1="105" x2="30" y2="105" stroke="#8a8a8a" stroke-width="0.8"/>
<text x="26.7" y="107.3" font-size="6.3" text-anchor="end" font-weight="bold" fill="#111" stroke="#111" stroke-width="0.28">-20</text>
<line x1="29" y1="17.1" x2="30" y2="17.1" stroke="#8a8a8a" stroke-width="0.7"/>
<line x1="29" y1="42.2" x2="30" y2="42.2" stroke="#8a8a8a" stroke-width="0.7"/>
<line x1="29" y1="67.3" x2="30" y2="67.3" stroke="#8a8a8a" stroke-width="0.7"/>
<line x1="29" y1="92.4" x2="30" y2="92.4" stroke="#8a8a8a" stroke-width="0.7"/>
<line x1="30" y1="105.2" x2="30" y2="107" stroke="#8a8a8a" stroke-width="0.8"/>
<text x="30" y="114.1" font-size="6.3" text-anchor="middle" font-weight="bold" fill="#111" stroke="#111" stroke-width="0.28">1549.9</text>
<line x1="55" y1="105.2" x2="55" y2="107" stroke="#8a8a8a" stroke-width="0.8"/>
<text x="55" y="114.1" font-size="6.3" text-anchor="middle" font-weight="bold" fill="#111" stroke="#111" stroke-width="0.28">1550.0</text>
<line x1="80.1" y1="105.2" x2="80.1" y2="107" stroke="#8a8a8a" stroke-width="0.8"/>
<text x="80.1" y="114.1" font-size="6.3" text-anchor="middle" font-weight="bold" fill="#111" stroke="#111" stroke-width="0.28">1550.1</text>
<line x1="105.1" y1="105.2" x2="105.1" y2="107" stroke="#8a8a8a" stroke-width="0.8"/>
<text x="105.1" y="114.1" font-size="6.3" text-anchor="middle" font-weight="bold" fill="#111" stroke="#111" stroke-width="0.28">1550.2</text>
<line x1="130.2" y1="105.2" x2="130.2" y2="107" stroke="#8a8a8a" stroke-width="0.8"/>
<text x="130.2" y="114.1" font-size="6.3" text-anchor="middle" font-weight="bold" fill="#111" stroke="#111" stroke-width="0.28">1550.3</text>
<line x1="155.2" y1="105.2" x2="155.2" y2="107" stroke="#8a8a8a" stroke-width="0.8"/>
<text x="155.2" y="114.1" font-size="6.3" text-anchor="middle" font-weight="bold" fill="#111" stroke="#111" stroke-width="0.28">1550.4</text>
<line x1="42.5" y1="105.2" x2="42.5" y2="106.2" stroke="#8a8a8a" stroke-width="0.7"/>
<line x1="67.6" y1="105.2" x2="67.6" y2="106.2" stroke="#8a8a8a" stroke-width="0.7"/>
<line x1="92.6" y1="105.2" x2="92.6" y2="106.2" stroke="#8a8a8a" stroke-width="0.7"/>
<line x1="117.6" y1="105.2" x2="117.6" y2="106.2" stroke="#8a8a8a" stroke-width="0.7"/>
<line x1="142.7" y1="105.2" x2="142.7" y2="106.2" stroke="#8a8a8a" stroke-width="0.7"/>
<text x="92.6" y="123" font-size="7.7" text-anchor="middle" font-weight="bold" fill="#111" stroke="#111" stroke-width="0.3">Wavelength (nm)</text>
<text x="9.9" y="51.4" font-size="7.7" text-anchor="middle" font-weight="bold" fill="#111" stroke="#111" stroke-width="0.3" transform="rotate(-90 9.9 51.4)">Transmission (dB)</text>
<text x="0.4" y="124.7" font-size="11" text-anchor="start" font-weight="bold" fill="#111" stroke="#111" stroke-width="0.35">(a)</text>
<path d="M205,4.4 V105.8 H329.7" fill="none" stroke="#8a8a8a" stroke-width="1.0"/>
<line x1="203.2" y1="4.4" x2="205" y2="4.4" stroke="#8a8a8a" stroke-width="0.8"/>
<text x="201.7" y="6.7" font-size="6.3" text-anchor="end" font-weight="bold" fill="#111" stroke="#111" stroke-width="0.28">0</text>
<line x1="203.2" y1="24.7" x2="205" y2="24.7" stroke="#8a8a8a" stroke-width="0.8"/>
<text x="201.7" y="26.9" font-size="6.3" text-anchor="end" font-weight="bold" fill="#111" stroke="#111" stroke-width="0.28">-20</text>
<line x1="203.2" y1="44.9" x2="205" y2="44.9" stroke="#8a8a8a" stroke-width="0.8"/>
<text x="201.7" y="47.2" font-size="6.3" text-anchor="end" font-weight="bold" fill="#111" stroke="#111" stroke-width="0.28">-40</text>
<line x1="203.2" y1="65.2" x2="205" y2="65.2" stroke="#8a8a8a" stroke-width="0.8"/>
<text x="201.7" y="67.4" font-size="6.3" text-anchor="end" font-weight="bold" fill="#111" stroke="#111" stroke-width="0.28">-60</text>
<line x1="203.2" y1="85.4" x2="205" y2="85.4" stroke="#8a8a8a" stroke-width="0.8"/>
<text x="201.7" y="87.7" font-size="6.3" text-anchor="end" font-weight="bold" fill="#111" stroke="#111" stroke-width="0.28">-80</text>
<line x1="203.2" y1="105.7" x2="205" y2="105.7" stroke="#8a8a8a" stroke-width="0.8"/>
<text x="201.7" y="108" font-size="6.3" text-anchor="end" font-weight="bold" fill="#111" stroke="#111" stroke-width="0.28">-100</text>
<line x1="204" y1="14.5" x2="205" y2="14.5" stroke="#8a8a8a" stroke-width="0.7"/>
<line x1="204" y1="34.8" x2="205" y2="34.8" stroke="#8a8a8a" stroke-width="0.7"/>
<line x1="204" y1="55" x2="205" y2="55" stroke="#8a8a8a" stroke-width="0.7"/>
<line x1="204" y1="75.3" x2="205" y2="75.3" stroke="#8a8a8a" stroke-width="0.7"/>
<line x1="204" y1="95.6" x2="205" y2="95.6" stroke="#8a8a8a" stroke-width="0.7"/>
<line x1="222.8" y1="105.8" x2="222.8" y2="107.6" stroke="#8a8a8a" stroke-width="0.8"/>
<text x="222.8" y="115" font-size="6.3" text-anchor="middle" font-weight="bold" fill="#111" stroke="#111" stroke-width="0.28">1549.6</text>
<line x1="254.8" y1="105.8" x2="254.8" y2="107.6" stroke="#8a8a8a" stroke-width="0.8"/>
<text x="254.8" y="115" font-size="6.3" text-anchor="middle" font-weight="bold" fill="#111" stroke="#111" stroke-width="0.28">1550.0</text>
<line x1="286.8" y1="105.8" x2="286.8" y2="107.6" stroke="#8a8a8a" stroke-width="0.8"/>
<text x="286.8" y="115" font-size="6.3" text-anchor="middle" font-weight="bold" fill="#111" stroke="#111" stroke-width="0.28">1550.4</text>
<line x1="318.8" y1="105.8" x2="318.8" y2="107.6" stroke="#8a8a8a" stroke-width="0.8"/>
<text x="318.8" y="115" font-size="6.3" text-anchor="middle" font-weight="bold" fill="#111" stroke="#111" stroke-width="0.28">1550.8</text>
<line x1="206.8" y1="105.8" x2="206.8" y2="106.8" stroke="#8a8a8a" stroke-width="0.7"/>
<line x1="238.8" y1="105.8" x2="238.8" y2="106.8" stroke="#8a8a8a" stroke-width="0.7"/>
<line x1="270.8" y1="105.8" x2="270.8" y2="106.8" stroke="#8a8a8a" stroke-width="0.7"/>
<line x1="302.7" y1="105.8" x2="302.7" y2="106.8" stroke="#8a8a8a" stroke-width="0.7"/>
<text x="268" y="124.3" font-size="7.7" text-anchor="middle" font-weight="bold" fill="#111" stroke="#111" stroke-width="0.3">Wavelength (nm)</text>
<text x="184.5" y="51.6" font-size="7.7" text-anchor="middle" font-weight="bold" fill="#111" stroke="#111" stroke-width="0.3" transform="rotate(-90 184.5 51.6)">Transmission (dB)</text>
<text x="173.7" y="123.9" font-size="11" text-anchor="start" font-weight="bold" fill="#111" stroke="#111" stroke-width="0.35">(b)</text>
<path d="M386.5,3.8 V104.3 H511.6" fill="none" stroke="#8a8a8a" stroke-width="1.0"/>
<line x1="384.7" y1="3.8" x2="386.5" y2="3.8" stroke="#8a8a8a" stroke-width="0.8"/>
<text x="383.2" y="6.1" font-size="6.3" text-anchor="end" font-weight="bold" fill="#111" stroke="#111" stroke-width="0.28">0</text>
<line x1="384.7" y1="37.2" x2="386.5" y2="37.2" stroke="#8a8a8a" stroke-width="0.8"/>
<text x="383.2" y="39.5" font-size="6.3" text-anchor="end" font-weight="bold" fill="#111" stroke="#111" stroke-width="0.28">-10</text>
<line x1="384.7" y1="70.7" x2="386.5" y2="70.7" stroke="#8a8a8a" stroke-width="0.8"/>
<text x="383.2" y="72.9" font-size="6.3" text-anchor="end" font-weight="bold" fill="#111" stroke="#111" stroke-width="0.28">-20</text>
<line x1="384.7" y1="104.1" x2="386.5" y2="104.1" stroke="#8a8a8a" stroke-width="0.8"/>
<text x="383.2" y="106.4" font-size="6.3" text-anchor="end" font-weight="bold" fill="#111" stroke="#111" stroke-width="0.28">-30</text>
<line x1="385.5" y1="20.5" x2="386.5" y2="20.5" stroke="#8a8a8a" stroke-width="0.7"/>
<line x1="385.5" y1="53.9" x2="386.5" y2="53.9" stroke="#8a8a8a" stroke-width="0.7"/>
<line x1="385.5" y1="87.4" x2="386.5" y2="87.4" stroke="#8a8a8a" stroke-width="0.7"/>
<line x1="397.1" y1="104.3" x2="397.1" y2="106.1" stroke="#8a8a8a" stroke-width="0.8"/>
<text x="397.1" y="113.4" font-size="6.3" text-anchor="middle" font-weight="bold" fill="#111" stroke="#111" stroke-width="0.28">1549.2</text>
<line x1="428.5" y1="104.3" x2="428.5" y2="106.1" stroke="#8a8a8a" stroke-width="0.8"/>
<text x="428.5" y="113.4" font-size="6.3" text-anchor="middle" font-weight="bold" fill="#111" stroke="#111" stroke-width="0.28">1549.8</text>
<line x1="459.9" y1="104.3" x2="459.9" y2="106.1" stroke="#8a8a8a" stroke-width="0.8"/>
<text x="459.9" y="113.4" font-size="6.3" text-anchor="middle" font-weight="bold" fill="#111" stroke="#111" stroke-width="0.28">1550.4</text>
<line x1="491.3" y1="104.3" x2="491.3" y2="106.1" stroke="#8a8a8a" stroke-width="0.8"/>
<text x="491.3" y="113.4" font-size="6.3" text-anchor="middle" font-weight="bold" fill="#111" stroke="#111" stroke-width="0.28">1551.0</text>
<line x1="412.8" y1="104.3" x2="412.8" y2="105.3" stroke="#8a8a8a" stroke-width="0.7"/>
<line x1="444.2" y1="104.3" x2="444.2" y2="105.3" stroke="#8a8a8a" stroke-width="0.7"/>
<line x1="475.6" y1="104.3" x2="475.6" y2="105.3" stroke="#8a8a8a" stroke-width="0.7"/>
<line x1="507" y1="104.3" x2="507" y2="105.3" stroke="#8a8a8a" stroke-width="0.7"/>
<text x="449.1" y="122.8" font-size="7.7" text-anchor="middle" font-weight="bold" fill="#111" stroke="#111" stroke-width="0.3">Wavelength (nm)</text>
<text x="368.5" y="50.8" font-size="7.7" text-anchor="middle" font-weight="bold" fill="#111" stroke="#111" stroke-width="0.3" transform="rotate(-90 368.5 50.8)">Transmission (dB)</text>
<text x="357" y="124" font-size="11" text-anchor="start" font-weight="bold" fill="#111" stroke="#111" stroke-width="0.35">(c)</text>
<path d="M31,131.6 V232.9 H156" fill="none" stroke="#8a8a8a" stroke-width="1.0"/>
<line x1="29.2" y1="232.8" x2="31" y2="232.8" stroke="#8a8a8a" stroke-width="0.8"/>
<text x="27.7" y="235.1" font-size="6.3" text-anchor="end" font-weight="bold" fill="#111" stroke="#111" stroke-width="0.28">0</text>
<line x1="29.2" y1="203.9" x2="31" y2="203.9" stroke="#8a8a8a" stroke-width="0.8"/>
<text x="27.7" y="206.1" font-size="6.3" text-anchor="end" font-weight="bold" fill="#111" stroke="#111" stroke-width="0.28">200</text>
<line x1="29.2" y1="174.9" x2="31" y2="174.9" stroke="#8a8a8a" stroke-width="0.8"/>
<text x="27.7" y="177.2" font-size="6.3" text-anchor="end" font-weight="bold" fill="#111" stroke="#111" stroke-width="0.28">400</text>
<line x1="29.2" y1="146" x2="31" y2="146" stroke="#8a8a8a" stroke-width="0.8"/>
<text x="27.7" y="148.3" font-size="6.3" text-anchor="end" font-weight="bold" fill="#111" stroke="#111" stroke-width="0.28">600</text>
<line x1="30" y1="218.3" x2="31" y2="218.3" stroke="#8a8a8a" stroke-width="0.7"/>
<line x1="30" y1="189.4" x2="31" y2="189.4" stroke="#8a8a8a" stroke-width="0.7"/>
<line x1="30" y1="160.5" x2="31" y2="160.5" stroke="#8a8a8a" stroke-width="0.7"/>
<line x1="30" y1="131.5" x2="31" y2="131.5" stroke="#8a8a8a" stroke-width="0.7"/>
<line x1="31.4" y1="232.9" x2="31.4" y2="234.7" stroke="#8a8a8a" stroke-width="0.8"/>
<text x="31.4" y="242" font-size="6.3" text-anchor="middle" font-weight="bold" fill="#111" stroke="#111" stroke-width="0.28">1549.0</text>
<line x1="57.4" y1="232.9" x2="57.4" y2="234.7" stroke="#8a8a8a" stroke-width="0.8"/>
<text x="57.4" y="242" font-size="6.3" text-anchor="middle" font-weight="bold" fill="#111" stroke="#111" stroke-width="0.28">1549.5</text>
<line x1="83.3" y1="232.9" x2="83.3" y2="234.7" stroke="#8a8a8a" stroke-width="0.8"/>
<text x="83.3" y="242" font-size="6.3" text-anchor="middle" font-weight="bold" fill="#111" stroke="#111" stroke-width="0.28">1550.0</text>
<line x1="109.3" y1="232.9" x2="109.3" y2="234.7" stroke="#8a8a8a" stroke-width="0.8"/>
<text x="109.3" y="242" font-size="6.3" text-anchor="middle" font-weight="bold" fill="#111" stroke="#111" stroke-width="0.28">1550.5</text>
<line x1="135.3" y1="232.9" x2="135.3" y2="234.7" stroke="#8a8a8a" stroke-width="0.8"/>
<text x="135.3" y="242" font-size="6.3" text-anchor="middle" font-weight="bold" fill="#111" stroke="#111" stroke-width="0.28">1551.0</text>
<line x1="44.4" y1="232.9" x2="44.4" y2="233.9" stroke="#8a8a8a" stroke-width="0.7"/>
<line x1="70.4" y1="232.9" x2="70.4" y2="233.9" stroke="#8a8a8a" stroke-width="0.7"/>
<line x1="96.3" y1="232.9" x2="96.3" y2="233.9" stroke="#8a8a8a" stroke-width="0.7"/>
<line x1="122.3" y1="232.9" x2="122.3" y2="233.9" stroke="#8a8a8a" stroke-width="0.7"/>
<line x1="148.3" y1="232.9" x2="148.3" y2="233.9" stroke="#8a8a8a" stroke-width="0.7"/>
<text x="93.8" y="250.8" font-size="7.7" text-anchor="middle" font-weight="bold" fill="#111" stroke="#111" stroke-width="0.3">Wavelength (nm)</text>
<text x="10" y="179.4" font-size="7.5" text-anchor="middle" font-weight="bold" fill="#111" stroke="#111" stroke-width="0.3" transform="rotate(-90 10 179.4)">Group delay (ps)</text>
<text x="0" y="252.4" font-size="11" text-anchor="start" font-weight="bold" fill="#111" stroke="#111" stroke-width="0.35">(d)</text>
<path d="M204.7,133.1 V233.6 H329.8" fill="none" stroke="#8a8a8a" stroke-width="1.0"/>
<line x1="202.9" y1="133.1" x2="204.7" y2="133.1" stroke="#8a8a8a" stroke-width="0.8"/>
<text x="201.4" y="135.4" font-size="6.3" text-anchor="end" font-weight="bold" fill="#111" stroke="#111" stroke-width="0.28">0</text>
<line x1="202.9" y1="151.4" x2="204.7" y2="151.4" stroke="#8a8a8a" stroke-width="0.8"/>
<text x="201.4" y="153.7" font-size="6.3" text-anchor="end" font-weight="bold" fill="#111" stroke="#111" stroke-width="0.28">-10</text>
<line x1="202.9" y1="169.8" x2="204.7" y2="169.8" stroke="#8a8a8a" stroke-width="0.8"/>
<text x="201.4" y="172" font-size="6.3" text-anchor="end" font-weight="bold" fill="#111" stroke="#111" stroke-width="0.28">-20</text>
<line x1="202.9" y1="188.1" x2="204.7" y2="188.1" stroke="#8a8a8a" stroke-width="0.8"/>
<text x="201.4" y="190.4" font-size="6.3" text-anchor="end" font-weight="bold" fill="#111" stroke="#111" stroke-width="0.28">-30</text>
<line x1="202.9" y1="206.5" x2="204.7" y2="206.5" stroke="#8a8a8a" stroke-width="0.8"/>
<text x="201.4" y="208.7" font-size="6.3" text-anchor="end" font-weight="bold" fill="#111" stroke="#111" stroke-width="0.28">-40</text>
<line x1="202.9" y1="224.8" x2="204.7" y2="224.8" stroke="#8a8a8a" stroke-width="0.8"/>
<text x="201.4" y="227.1" font-size="6.3" text-anchor="end" font-weight="bold" fill="#111" stroke="#111" stroke-width="0.28">-50</text>
<line x1="203.7" y1="142.3" x2="204.7" y2="142.3" stroke="#8a8a8a" stroke-width="0.7"/>
<line x1="203.7" y1="160.6" x2="204.7" y2="160.6" stroke="#8a8a8a" stroke-width="0.7"/>
<line x1="203.7" y1="178.9" x2="204.7" y2="178.9" stroke="#8a8a8a" stroke-width="0.7"/>
<line x1="203.7" y1="197.3" x2="204.7" y2="197.3" stroke="#8a8a8a" stroke-width="0.7"/>
<line x1="203.7" y1="215.6" x2="204.7" y2="215.6" stroke="#8a8a8a" stroke-width="0.7"/>
<line x1="228.4" y1="233.6" x2="228.4" y2="235.4" stroke="#8a8a8a" stroke-width="0.8"/>
<text x="228.4" y="243" font-size="6.3" text-anchor="middle" font-weight="bold" fill="#111" stroke="#111" stroke-width="0.28">1549</text>
<line x1="262.2" y1="233.6" x2="262.2" y2="235.4" stroke="#8a8a8a" stroke-width="0.8"/>
<text x="262.2" y="243" font-size="6.3" text-anchor="middle" font-weight="bold" fill="#111" stroke="#111" stroke-width="0.28">1550</text>
<line x1="296" y1="233.6" x2="296" y2="235.4" stroke="#8a8a8a" stroke-width="0.8"/>
<text x="296" y="243" font-size="6.3" text-anchor="middle" font-weight="bold" fill="#111" stroke="#111" stroke-width="0.28">1551</text>
<line x1="329.8" y1="233.6" x2="329.8" y2="235.4" stroke="#8a8a8a" stroke-width="0.8"/>
<text x="329.8" y="243" font-size="6.3" text-anchor="middle" font-weight="bold" fill="#111" stroke="#111" stroke-width="0.28">1552</text>
<line x1="211.5" y1="233.6" x2="211.5" y2="234.6" stroke="#8a8a8a" stroke-width="0.7"/>
<line x1="245.3" y1="233.6" x2="245.3" y2="234.6" stroke="#8a8a8a" stroke-width="0.7"/>
<line x1="279.1" y1="233.6" x2="279.1" y2="234.6" stroke="#8a8a8a" stroke-width="0.7"/>
<line x1="312.9" y1="233.6" x2="312.9" y2="234.6" stroke="#8a8a8a" stroke-width="0.7"/>
<text x="267.7" y="252.7" font-size="7.7" text-anchor="middle" font-weight="bold" fill="#111" stroke="#111" stroke-width="0.3">Wavelength (nm)</text>
<text x="187.7" y="180.1" font-size="7.7" text-anchor="middle" font-weight="bold" fill="#111" stroke="#111" stroke-width="0.3" transform="rotate(-90 187.7 180.1)">Transmission (dB)</text>
<text x="174.1" y="251.2" font-size="11" text-anchor="start" font-weight="bold" fill="#111" stroke="#111" stroke-width="0.35">(e)</text>
<path d="M386.5,133.8 V235.4 H511.5" fill="none" stroke="#8a8a8a" stroke-width="1.0"/>
<line x1="384.7" y1="133.8" x2="386.5" y2="133.8" stroke="#8a8a8a" stroke-width="0.8"/>
<text x="383.2" y="136.1" font-size="6.3" text-anchor="end" font-weight="bold" fill="#111" stroke="#111" stroke-width="0.28">0</text>
<line x1="384.7" y1="156.3" x2="386.5" y2="156.3" stroke="#8a8a8a" stroke-width="0.8"/>
<text x="383.2" y="158.6" font-size="6.3" text-anchor="end" font-weight="bold" fill="#111" stroke="#111" stroke-width="0.28">-10</text>
<line x1="384.7" y1="178.8" x2="386.5" y2="178.8" stroke="#8a8a8a" stroke-width="0.8"/>
<text x="383.2" y="181.1" font-size="6.3" text-anchor="end" font-weight="bold" fill="#111" stroke="#111" stroke-width="0.28">-20</text>
<line x1="384.7" y1="201.3" x2="386.5" y2="201.3" stroke="#8a8a8a" stroke-width="0.8"/>
<text x="383.2" y="203.6" font-size="6.3" text-anchor="end" font-weight="bold" fill="#111" stroke="#111" stroke-width="0.28">-30</text>
<line x1="384.7" y1="223.8" x2="386.5" y2="223.8" stroke="#8a8a8a" stroke-width="0.8"/>
<text x="383.2" y="226.1" font-size="6.3" text-anchor="end" font-weight="bold" fill="#111" stroke="#111" stroke-width="0.28">-40</text>
<line x1="385.5" y1="145.1" x2="386.5" y2="145.1" stroke="#8a8a8a" stroke-width="0.7"/>
<line x1="385.5" y1="167.6" x2="386.5" y2="167.6" stroke="#8a8a8a" stroke-width="0.7"/>
<line x1="385.5" y1="190.1" x2="386.5" y2="190.1" stroke="#8a8a8a" stroke-width="0.7"/>
<line x1="385.5" y1="212.6" x2="386.5" y2="212.6" stroke="#8a8a8a" stroke-width="0.7"/>
<line x1="410.3" y1="235.4" x2="410.3" y2="237.2" stroke="#8a8a8a" stroke-width="0.8"/>
<text x="410.3" y="244.3" font-size="6.3" text-anchor="middle" font-weight="bold" fill="#111" stroke="#111" stroke-width="0.28">1549</text>
<line x1="444.2" y1="235.4" x2="444.2" y2="237.2" stroke="#8a8a8a" stroke-width="0.8"/>
<text x="444.2" y="244.3" font-size="6.3" text-anchor="middle" font-weight="bold" fill="#111" stroke="#111" stroke-width="0.28">1550</text>
<line x1="478.1" y1="235.4" x2="478.1" y2="237.2" stroke="#8a8a8a" stroke-width="0.8"/>
<text x="478.1" y="244.3" font-size="6.3" text-anchor="middle" font-weight="bold" fill="#111" stroke="#111" stroke-width="0.28">1551</text>
<line x1="512" y1="235.4" x2="512" y2="237.2" stroke="#8a8a8a" stroke-width="0.8"/>
<text x="512" y="244.3" font-size="6.3" text-anchor="middle" font-weight="bold" fill="#111" stroke="#111" stroke-width="0.28">1552</text>
<line x1="393.4" y1="235.4" x2="393.4" y2="236.4" stroke="#8a8a8a" stroke-width="0.7"/>
<line x1="427.2" y1="235.4" x2="427.2" y2="236.4" stroke="#8a8a8a" stroke-width="0.7"/>
<line x1="461.1" y1="235.4" x2="461.1" y2="236.4" stroke="#8a8a8a" stroke-width="0.7"/>
<line x1="495.1" y1="235.4" x2="495.1" y2="236.4" stroke="#8a8a8a" stroke-width="0.7"/>
<text x="450" y="253.5" font-size="7.7" text-anchor="middle" font-weight="bold" fill="#111" stroke="#111" stroke-width="0.3">Wavelength (nm)</text>
<text x="366.8" y="181.1" font-size="7.7" text-anchor="middle" font-weight="bold" fill="#111" stroke="#111" stroke-width="0.3" transform="rotate(-90 366.8 181.1)">Transmission (dB)</text>
<text x="356.9" y="251" font-size="11" text-anchor="start" font-weight="bold" fill="#111" stroke="#111" stroke-width="0.35">(f)</text>
</svg></body></html>
